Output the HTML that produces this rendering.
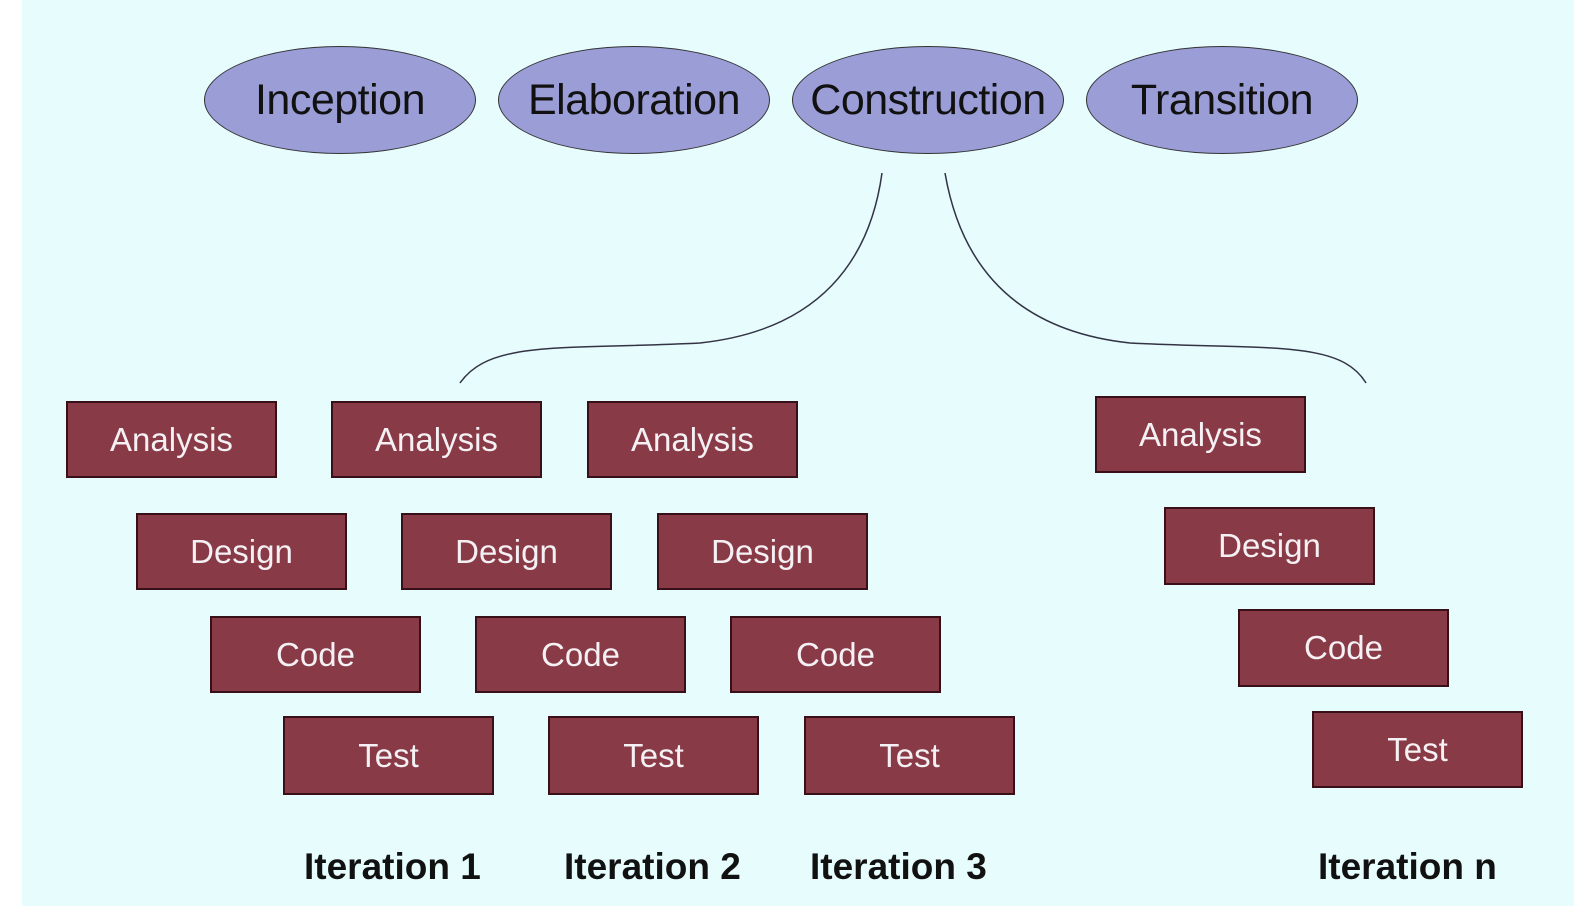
<!DOCTYPE html>
<html><head><style>
body{margin:0;width:1588px;height:920px;background:#fff;position:relative;overflow:hidden;font-family:"Liberation Sans",sans-serif}
#bg{position:absolute;left:22px;top:0;width:1552px;height:906px;background:#e6fcfd}
.e{position:absolute;width:272px;height:108px;border:1.5px solid #333;border-radius:50%;background:#9a9dd6;color:#111;font-size:43px;display:flex;align-items:center;justify-content:center;box-sizing:border-box;letter-spacing:-0.5px}
.b{position:absolute;width:211px;height:77px;background:#883a46;border:2px solid #3a1018;box-sizing:border-box;color:#f4f0f4;font-size:33px;display:flex;align-items:center;justify-content:center}
.l{position:absolute;font-weight:bold;font-size:37px;color:#111;top:846px}
</style></head><body>
<div id="bg"></div>
<div class="e" style="left:204px;top:46px">Inception</div>
<div class="e" style="left:498px;top:46px">Elaboration</div>
<div class="e" style="left:792px;top:46px">Construction</div>
<div class="e" style="left:1086px;top:46px">Transition</div>
<svg style="position:absolute;left:0;top:0" width="1588" height="920"><path d="M882,173 C870,260 820,330 700,343 C560,350 490,340 460,383" fill="none" stroke="#334" stroke-width="1.5"/><path d="M945,173 C960,260 1010,330 1130,343 C1270,350 1340,340 1366,383" fill="none" stroke="#334" stroke-width="1.5"/></svg>
<div class="b" style="left:66px;top:401px">Analysis</div>
<div class="b" style="left:136px;top:513px">Design</div>
<div class="b" style="left:210px;top:616px">Code</div>
<div class="b" style="left:283px;top:716px;height:79px">Test</div>
<div class="b" style="left:331px;top:401px">Analysis</div>
<div class="b" style="left:401px;top:513px">Design</div>
<div class="b" style="left:475px;top:616px">Code</div>
<div class="b" style="left:548px;top:716px;height:79px">Test</div>
<div class="b" style="left:587px;top:401px">Analysis</div>
<div class="b" style="left:657px;top:513px">Design</div>
<div class="b" style="left:730px;top:616px">Code</div>
<div class="b" style="left:804px;top:716px;height:79px">Test</div>
<div class="b" style="left:1095px;top:396px">Analysis</div>
<div class="b" style="left:1164px;top:507px;height:78px">Design</div>
<div class="b" style="left:1238px;top:609px;height:78px">Code</div>
<div class="b" style="left:1312px;top:711px;height:77px">Test</div>
<div class="l" style="left:304px">Iteration 1</div>
<div class="l" style="left:564px">Iteration 2</div>
<div class="l" style="left:810px">Iteration 3</div>
<div class="l" style="left:1318px">Iteration n</div>
</body></html>
